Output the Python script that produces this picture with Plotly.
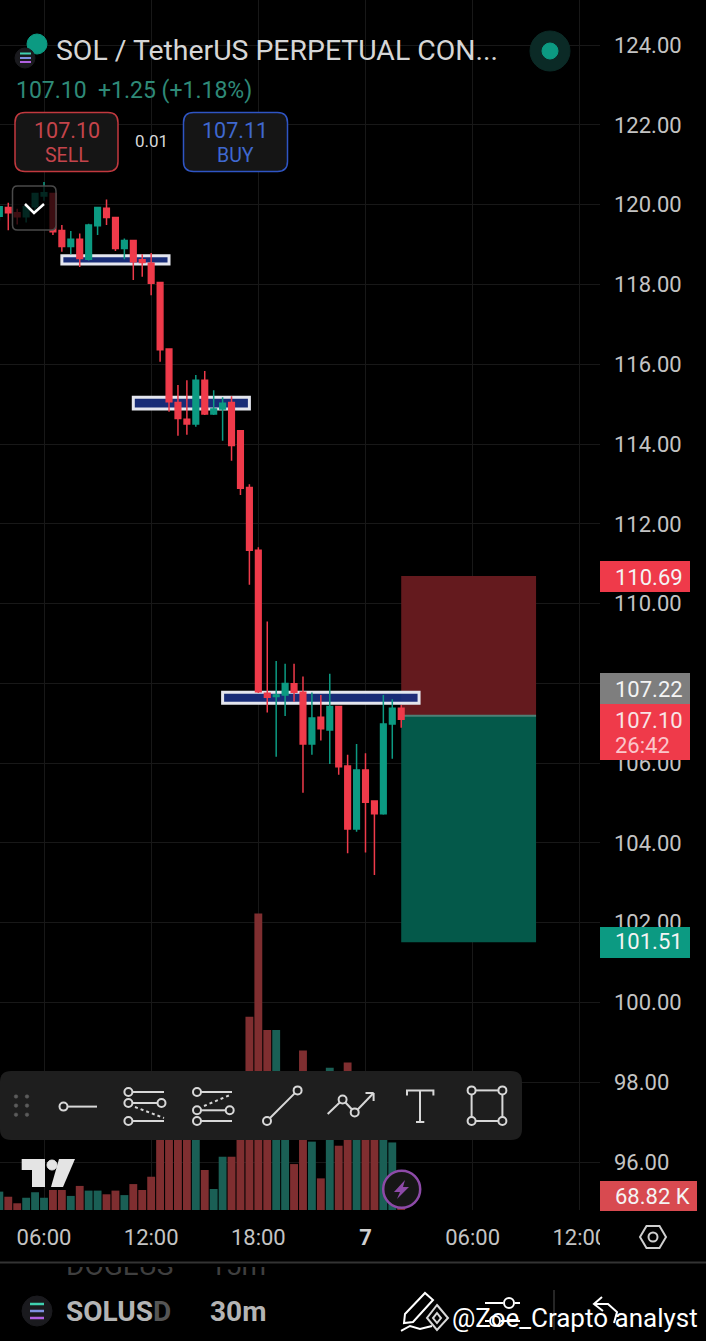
"""SOL / TetherUS perpetual, 30m candles with volume, zones and a long position box."""
import plotly.graph_objects as go

W, H = 706, 1341
FONT = "Roboto"

# ── Data ─────────────────────────────────────────────────────────────────────

bar_idx = list(range(-5, 41))

opens = [119.71, 119.93, 119.80, 119.70, 119.95, 120.22, 120.28, 119.35, 118.95, 119.13, 118.63, 119.47,
         119.91, 119.68, 118.90, 119.10, 118.62, 118.53, 118.05, 116.38, 115.04, 114.62, 114.50, 115.60,
         114.75, 114.88, 115.04, 114.33, 112.91, 111.34, 107.75, 107.67, 107.71, 107.99, 107.78, 106.48,
         107.15, 106.83, 107.42, 105.93, 104.35, 105.83, 105.05, 104.73, 106.98, 107.38]
highs = [119.97, 120.05, 119.90, 119.85, 120.30, 120.57, 120.30, 119.49, 119.34, 119.28, 119.52, 119.95,
         120.13, 119.70, 119.15, 119.12, 118.76, 118.79, 118.07, 116.40, 115.48, 115.60, 115.73, 115.83,
         115.35, 115.17, 115.20, 114.33, 112.99, 111.41, 109.55, 108.56, 108.49, 108.49, 108.17, 107.77,
         107.71, 108.24, 107.44, 106.21, 106.48, 106.25, 105.07, 107.71, 107.60, 107.46]
lows = [119.60, 119.36, 119.50, 119.55, 119.80, 120.10, 119.24, 118.82, 118.76, 118.44, 118.60, 119.24,
        119.49, 118.84, 118.63, 118.11, 118.19, 117.73, 116.06, 114.81, 114.21, 114.23, 114.43, 114.73,
        114.73, 114.08, 113.58, 112.72, 110.47, 107.76, 107.27, 106.16, 107.18, 107.54, 105.26, 106.21,
        106.57, 105.98, 105.71, 103.74, 104.28, 103.76, 103.20, 104.71, 106.11, 106.89]
closes = [119.95, 119.80, 119.70, 119.95, 120.28, 120.30, 119.32, 118.95, 119.13, 118.65, 119.49, 119.93,
          119.68, 118.90, 119.10, 118.57, 118.55, 118.03, 116.36, 115.06, 114.64, 114.50, 115.60, 114.75,
          114.88, 115.02, 113.96, 112.89, 111.34, 107.79, 107.65, 107.71, 108.00, 107.78, 106.48, 107.13,
          106.86, 107.42, 105.91, 104.35, 105.83, 105.02, 104.73, 106.98, 107.38, 107.10]
volumes_k = [90, 65, 33, 60, 87, 60, 98, 98, 69, 118, 95, 95, 77, 95, 73, 127, 98, 163, 457, 506, 539, 490, 392,
             196, 103, 261, 261, 376, 947, 1453, 882, 882, 539, 225, 781, 335, 155, 697, 315, 723, 457, 457,
             539, 457, 331, 68.82]

price_ticks = [96, 98, 100, 102, 104, 106, 108, 110, 112, 114, 116, 118, 120, 122, 124]
price_tick_labels = [f"{p:.2f}" for p in price_ticks]
time_ticks = [0, 12, 24, 36, 48, 60]
time_tick_labels = ["06:00", "12:00", "18:00", "<b style='color:#d0d0d0'>7</b>", "06:00", "12:00"]

# drawn zones: start bar, end bar, top price, bottom price
zone_starts = [2, 10, 20]
zone_ends = [14, 23, 42]
zone_tops = [118.72, 115.17, 107.78]
zone_bottoms = [118.51, 114.88, 107.50]

# position box
pos_start, pos_end = 40, 55.1
stop_price, entry_price, target_price = 110.69, 107.19, 101.51

RED = "#ef3a4a"
GREEN = "#0c9a82"
VOL_RED = "#7f2e30"
VOL_GREEN = "#1a5f55"
TEXT = "#c4c4c4"
ICON = "#d8d8d8"


# ── Pixel helpers for the app chrome ─────────────────────────────────────────

def fx(px):
    return px / W


def fy(py):
    return 1 - py / H


def line_seg(x0, y0, x1, y1, color=ICON, width=2, dash="solid"):
    return dict(type="line", xref="paper", yref="paper", x0=fx(x0), y0=fy(y0), x1=fx(x1), y1=fy(y1),
                line=dict(color=color, width=width, dash=dash), layer="above")


def circle(cx, cy, r, line_color=ICON, fill="rgba(0,0,0,0)", width=2):
    return dict(type="circle", xref="paper", yref="paper", x0=fx(cx - r), y0=fy(cy + r), x1=fx(cx + r), y1=fy(cy - r),
                line=dict(color=line_color, width=width), fillcolor=fill, layer="above")


def rect(x0, y0, x1, y1, fill):
    return dict(type="rect", xref="paper", yref="paper", x0=fx(x0), y0=fy(y1), x1=fx(x1), y1=fy(y0),
                line=dict(width=0), fillcolor=fill, layer="above")


def poly(points, fill=None, color=ICON, width=0, closed=True):
    d = "M" + " L".join(f"{fx(x):.5f},{fy(y):.5f}" for x, y in points) + (" Z" if closed else "")
    return dict(type="path", xref="paper", yref="paper", path=d, fillcolor=fill or "rgba(0,0,0,0)",
                line=dict(color=color, width=width), layer="above")


def round_rect(x0, y0, x1, y1, r, fill, color="rgba(0,0,0,0)", width=0):
    c = [(x0 + r, y0), (x1 - r, y0), (x1, y0 + r), (x1, y1 - r), (x1 - r, y1), (x0 + r, y1), (x0, y1 - r), (x0, y0 + r)]
    q = lambda p: f"{fx(p[0]):.5f},{fy(p[1]):.5f}"
    d = (f"M{q(c[0])} L{q(c[1])} Q{q((x1, y0))} {q(c[2])} L{q(c[3])} Q{q((x1, y1))} {q(c[4])} "
         f"L{q(c[5])} Q{q((x0, y1))} {q(c[6])} L{q(c[7])} Q{q((x0, y0))} {q(c[0])} Z")
    return dict(type="path", xref="paper", yref="paper", path=d, fillcolor=fill,
                line=dict(color=color, width=width), layer="above")


def label(text, x, y, size=22, color=TEXT, anchor="left", **kw):
    return dict(text=text, x=fx(x), y=fy(y), xref="paper", yref="paper", xanchor=anchor, yanchor="middle",
                showarrow=False, font=dict(family=FONT, size=size, color=color), borderpad=0, **kw)


# ── Figure ───────────────────────────────────────────────────────────────────

fig = go.Figure()
fig.add_trace(go.Bar(
    x=bar_idx, y=volumes_k, yaxis="y2", width=0.88,
    marker=dict(color=[VOL_GREEN if c >= o else VOL_RED for o, c in zip(opens, closes)], line=dict(width=0)),
))
fig.add_trace(go.Candlestick(
    x=bar_idx, open=opens, high=highs, low=lows, close=closes, yaxis="y",
    increasing=dict(line=dict(color=GREEN, width=1.5), fillcolor=GREEN),
    decreasing=dict(line=dict(color=RED, width=1.5), fillcolor=RED),
))

shapes = [
    dict(type="rect", x0=pos_start, x1=pos_end, y0=entry_price, y1=stop_price, xref="x", yref="y",
         fillcolor="#641a1e", line=dict(width=0), layer="between"),
    dict(type="rect", x0=pos_start, x1=pos_end, y0=target_price, y1=entry_price, xref="x", yref="y",
         fillcolor="#04594a", line=dict(width=0), layer="between"),
    dict(type="line", x0=pos_start, x1=pos_end, y0=entry_price, y1=entry_price, xref="x", yref="y",
         line=dict(color="#4f8076", width=2), layer="between"),
]
for s, e, top, bottom in zip(zone_starts, zone_ends, zone_tops, zone_bottoms):
    shapes.append(dict(type="rect", x0=s, x1=e, y0=bottom, y1=top, xref="x", yref="y",
                       fillcolor="rgba(26,47,128,0.93)", line=dict(color="#e4e6ee", width=3), layer="between"))

# right-hand cut-off for the last time label, price tags
shapes += [
    rect(600, 1212, 640, 1260, "#000000"),
    rect(600, 561, 690, 592, RED),
    rect(600, 673, 690, 705, "#7e7e7e"),
    rect(600, 704, 690, 760, RED),
    rect(600, 927, 690, 958, "#0c9a82"),
    rect(600, 1181, 697, 1211, "#d84a50"),
]

# bottom bar separator and settings hexagon
shapes += [
    line_seg(0, 1262.5, W, 1262.5, "#333333", 2),
    poly([(640, 1237), (646.5, 1226), (659.5, 1226), (666, 1237), (659.5, 1248), (646.5, 1248)], color="#cfcfcf", width=2),
    circle(653, 1237, 4.5, "#cfcfcf"),
]

# header icons, status dot, order buttons, collapse button
shapes += [
    circle(37, 44, 10, "#0c9a82", "#0c9a82", 1),
    circle(25, 58, 10, "#1a1a1e", "#1a1a1e", 1),
    line_seg(20, 53.5, 31, 53.5, "#3fd0b0", 2),
    line_seg(20, 58, 31, 58, "#7f8fe0", 2),
    line_seg(20, 62, 31, 62, "#b060e0", 2),
    circle(550, 51, 20, "#0b2a26", "#0b2a26", 1),
    circle(550, 51, 8, "#0c9a82", "#0c9a82", 1),
    round_rect(15, 112.5, 118, 171.5, 10, "#151515", "#c2393f", 1.5),
    round_rect(183.5, 112.5, 287.5, 171.5, 10, "#151515", "#2f55c4", 1.5),
    round_rect(12.5, 186, 56, 230, 5, "rgba(0,0,0,0.75)", "#4a4a4a", 1.5),
    poly([(25, 204), (34, 213), (44, 204)], color="#ffffff", width=2.5, closed=False),
]

# drawing toolbar
shapes.append(round_rect(0, 1071, 522, 1140, 11, "#1e1e1e"))
for dx in (16, 27):
    for dy in (1096.5, 1105.6, 1114.7):
        shapes.append(circle(dx, dy, 1.8, "#5c5c5c", "#5c5c5c", 0.5))
shapes += [
    # horizontal ray
    line_seg(67.5, 1106.6, 97, 1106.6), circle(63.5, 1106.6, 4),
    # down channel
    line_seg(132.5, 1092, 164, 1092), line_seg(132.5, 1103, 157, 1103), line_seg(132.5, 1121, 164, 1121),
    line_seg(135, 1107, 164, 1118, dash="dot"),
    circle(128.4, 1092, 4), circle(128.4, 1103, 4), circle(161.5, 1103, 4), circle(128.4, 1121, 4),
    # up channel
    line_seg(201, 1092, 232, 1092), line_seg(201, 1110.3, 225.5, 1110.3), line_seg(201, 1121, 232, 1121),
    line_seg(204, 1106, 230, 1095, dash="dot"),
    circle(197, 1092, 4), circle(197, 1110.3, 4), circle(229.7, 1110.3, 4), circle(197, 1121, 4),
    # trend line
    line_seg(270, 1118, 294.6, 1093.4), circle(267, 1121, 4), circle(297.6, 1090.4, 4),
    # path with arrow
    line_seg(327.7, 1114, 339.7, 1102.5), line_seg(345.5, 1102.5, 352, 1109.5), line_seg(357.7, 1109.5, 373.6, 1093),
    line_seg(365.5, 1093, 373.6, 1093), line_seg(373.6, 1093, 373.6, 1101),
    circle(342.6, 1099.5, 4), circle(354.7, 1112.4, 4),
    # text tool
    poly([(407, 1095.5), (407, 1090.4), (433.4, 1090.4), (433.4, 1095.5)], width=2, closed=False),
    line_seg(420, 1090.4, 420, 1122), line_seg(416, 1122, 424.3, 1122),
    # rectangle tool
    line_seg(475.6, 1090.4, 498.4, 1090.4), line_seg(475.6, 1121, 498.4, 1121),
    line_seg(471.6, 1094.4, 471.6, 1117), line_seg(502.4, 1094.4, 502.4, 1117),
    circle(471.6, 1090.4, 4), circle(502.4, 1090.4, 4), circle(471.6, 1121, 4), circle(502.4, 1121, 4),
]

# TradingView mark and lightning badge
shapes += [
    poly([(21.7, 1159), (45, 1159), (45, 1187), (32, 1187), (32, 1170), (21.7, 1170)], fill="#e4e4e4"),
    circle(52, 1165, 5, "#e4e4e4", "#e4e4e4", 1),
    poly([(59, 1159), (75, 1159), (63, 1187), (51, 1187)], fill="#e4e4e4"),
    circle(401.7, 1189.3, 18.5, "#8d4aa8", "#161616", 2.5),
    poly([(405, 1180), (394, 1192), (400, 1192), (397, 1199), (409, 1187), (403, 1187)], fill="#8d4aa8"),
]

# bottom toolbar icons
shapes += [
    circle(37, 1311, 15, "#1a1a1e", "#1a1a1e", 1),
    line_seg(30, 1304, 44, 1304, "#3fd0b0", 2.5),
    line_seg(30, 1311, 44, 1311, "#7f8fe0", 2.5),
    line_seg(30, 1318, 44, 1318, "#b060e0", 2.5),
    # pencil with scribble
    poly([(405, 1314), (425, 1293), (433, 1300), (413, 1322), (404, 1323)], color="#ffffff", width=2),
    poly([(401, 1331), (410, 1326), (420, 1329), (432, 1326)], color="#ffffff", width=2, closed=False),
    # exchange diamond
    poly([(437, 1305), (448, 1318), (437, 1330), (427, 1318)], color="#d8d8d8", width=2),
    poly([(437, 1313), (441, 1318), (437, 1323), (433, 1318)], color="#d8d8d8", width=2),
    # sliders
    line_seg(485, 1303, 503, 1303, "#ffffff", 2), line_seg(515, 1303, 520, 1303, "#ffffff", 2),
    circle(509, 1303, 5, "#ffffff"),
    line_seg(485, 1321, 489, 1321, "#ffffff", 2), line_seg(501, 1321, 520, 1321, "#ffffff", 2),
    circle(495, 1321, 5, "#ffffff"),
    line_seg(554, 1290, 554, 1330, "#333333", 1.5),
    # undo arrow
    poly([(603, 1311), (594, 1304), (602, 1297)], color="#ffffff", width=2, closed=False),
    poly([(594, 1304), (608, 1304), (617, 1312), (614, 1323)], color="#ffffff", width=2, closed=False),
]

annotations = [
    label("SOL / TetherUS PERPETUAL CON...", 55, 50, 28.4, "#d6d6d6"),
    label("107.10", 15, 90, 23, "#2f8a78"),
    label("+1.25 (+1.18%)", 97, 90, 23, "#2f8a78"),
    label("107.10", 66.5, 131, 21.5, "#c4444b", "center"),
    label("SELL", 66.5, 156, 19.5, "#c4444b", "center"),
    label("0.01", 151, 141, 17, "#d8d8d8", "center"),
    label("107.11", 235.5, 131, 21.5, "#3f68cf", "center"),
    label("BUY", 235.5, 156, 19.5, "#3f68cf", "center"),
    label("110.69", 614, 577, 22, "#f4f4f4"),
    label("107.22", 614, 689, 22, "#f4f4f4"),
    label("107.10", 614, 720, 22, "#f8e4e6"),
    label("26:42", 614, 745, 22, "#fbc6cb"),
    label("101.51", 614, 942, 22, "#f4f4f4"),
    label("68.82 K", 614, 1196, 22, "#f4f4f4"),
    label("DOGEUS", 65, 1274, 28, "#3f3f3f", height=15, valign="bottom"),
    label("15m", 209, 1274, 28, "#3f3f3f", height=15, valign="bottom"),
    label("<b>SOLUS</b><b style='color:#555555'>D</b>", 65, 1311, 28, "#b4b4b4"),
    label("<b>30m</b>", 209, 1311, 28, "#b4b4b4"),
    label("@Zoe_Crapto analyst", 451, 1318, 26, "#ffffff"),
]

fig.update_layout(
    width=W, height=H, margin=dict(l=0, r=0, t=0, b=0),
    paper_bgcolor="#000000", plot_bgcolor="#000000", showlegend=False, boxgap=0.1,
    shapes=shapes, annotations=annotations,
    font=dict(family=FONT, color=TEXT),
    xaxis=dict(domain=[0, 600 / W], range=[-4.927, 62.26], tickvals=time_ticks, ticktext=time_tick_labels,
               gridcolor="#181818", gridwidth=1, zeroline=False, showline=False, ticks="", automargin=False,
               tickfont=dict(size=22, color=TEXT, family=FONT), ticklabelstandoff=12,
               rangeslider=dict(visible=False), tickangle=0),
    yaxis=dict(domain=[1 - 1210 / H, 1], range=[94.80, 125.13], side="right", tickvals=price_ticks,
               ticktext=price_tick_labels, gridcolor="#181818", gridwidth=1, zeroline=False, showline=False,
               ticks="", automargin=False, tickfont=dict(size=22, color=TEXT, family=FONT), ticklabelstandoff=13),
    yaxis2=dict(domain=[1 - 1210 / H, 1], range=[0, 5929], overlaying="y", visible=False),
)

# the app screenshot has no page margin around the chart
fig.write_html("out.html", config={"responsive": False, "displayModeBar": False},
               post_script="document.documentElement.style.overflow='hidden';document.body.style.margin='0';"
                           "document.body.style.background='#000';")
